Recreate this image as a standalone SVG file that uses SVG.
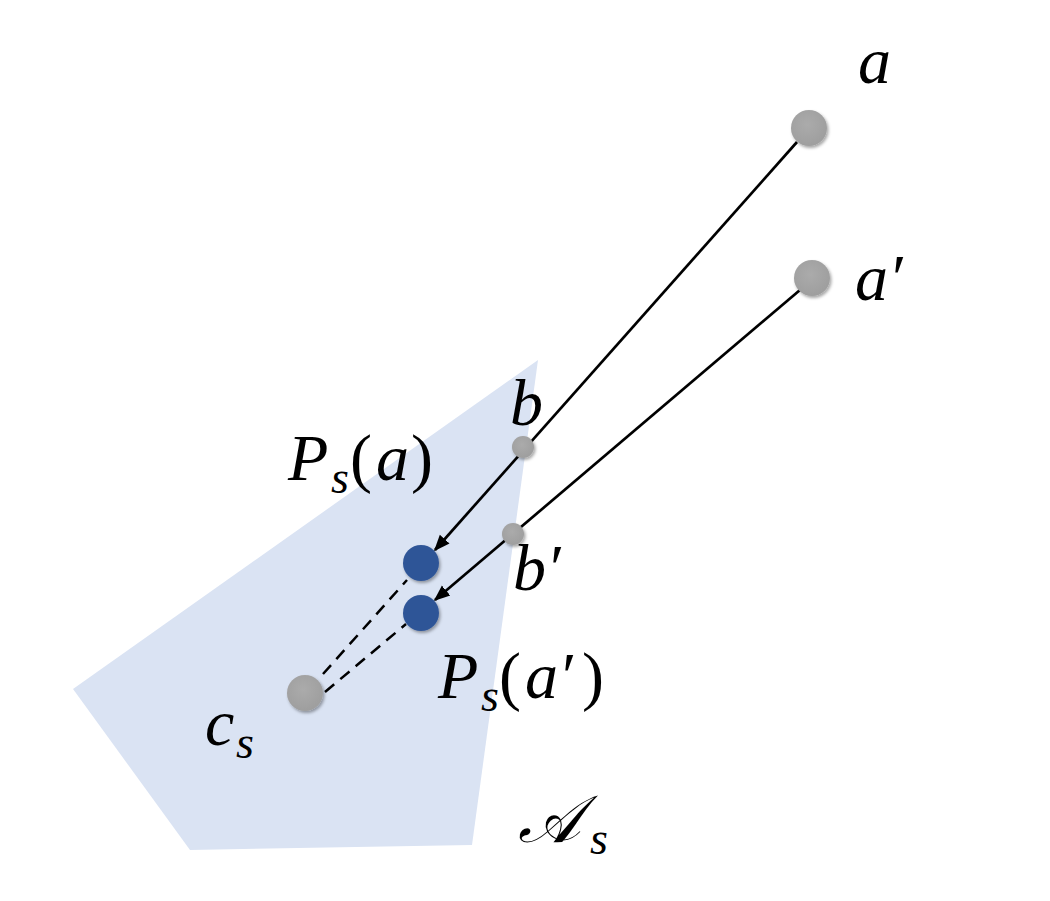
<svg xmlns="http://www.w3.org/2000/svg" width="1050" height="901" viewBox="0 0 1050 901">
<defs>
<style>
.m{font-family:"Liberation Serif","DejaVu Serif",serif;font-style:italic;fill:#000;font-size:66px}
.sub{font-size:46px}
.up{font-style:normal}
.edge{stroke:#000;stroke-width:2.7;fill:none}
.dash{stroke:#000;stroke-width:2.5;fill:none;stroke-dasharray:12 8}
.gray{fill:url(#gg);filter:url(#sh)}
.blue{fill:#2f5597;filter:url(#sh)}
</style>
<radialGradient id="gg" cx="0.45" cy="0.4" r="0.7">
<stop offset="0" stop-color="#ababab"/>
<stop offset="1" stop-color="#9c9c9c"/>
</radialGradient>
<filter id="sh" x="-40%" y="-40%" width="180%" height="180%">
<feDropShadow dx="1.5" dy="2" stdDeviation="1.5" flood-color="#000" flood-opacity="0.35"/>
</filter>
<marker id="ah" viewBox="0 0 10 10" refX="9" refY="5" markerWidth="6" markerHeight="6" orient="auto" markerUnits="strokeWidth">
<path d="M0,1 L10,5 L0,9 Z" fill="#000"/>
</marker>
</defs>
<polygon id="region" points="538,360 73,689 190,850 472,845" fill="#dae3f3"/>
<g id="connectors">
<line class="edge" x1="797" y1="142" x2="435" y2="550" marker-end="url(#ah)"/>
<line class="edge" x1="800" y1="290" x2="435" y2="600" marker-end="url(#ah)"/>
<line class="dash" x1="323" y1="674" x2="407" y2="580"/>
<line class="dash" x1="325" y1="692" x2="406" y2="624"/>
</g>
<g id="node-a"><circle class="gray" cx="809" cy="128" r="18"/></g>
<g id="node-a2"><circle class="gray" cx="812" cy="278" r="18"/></g>
<g id="node-b"><circle class="gray" cx="523" cy="447" r="11"/></g>
<g id="node-b2"><circle class="gray" cx="513" cy="534" r="11"/></g>
<g id="node-cs"><circle class="gray" cx="305" cy="693" r="18"/></g>
<g id="node-psa"><circle class="blue" cx="421" cy="563" r="18"/></g>
<g id="node-psa2"><circle class="blue" cx="421" cy="613" r="18"/></g>
<g id="labels">
<text class="m" x="858" y="83">a</text>
<text class="m" x="855" y="300">a′</text>
<text class="m" x="510" y="425">b</text>
<text class="m" x="513" y="590">b′</text>
<text class="m" y="480"><tspan x="288">P</tspan><tspan class="sub" x="331" y="493">s</tspan><tspan class="up" x="350" y="480">(</tspan><tspan x="376">a</tspan><tspan class="up" x="411">)</tspan></text>
<text class="m" y="698"><tspan x="438">P</tspan><tspan class="sub" x="481" y="711">s</tspan><tspan class="up" x="499" y="698">(</tspan><tspan x="525">a′</tspan><tspan class="up" x="582">)</tspan></text>
<text class="m" y="745"><tspan x="205">c</tspan><tspan class="sub" x="236" y="758">s</tspan></text>
<text class="m" y="842"><tspan x="518" font-size="66">𝒜</tspan><tspan class="sub" x="590" y="854">s</tspan></text>
</g>
</svg>
